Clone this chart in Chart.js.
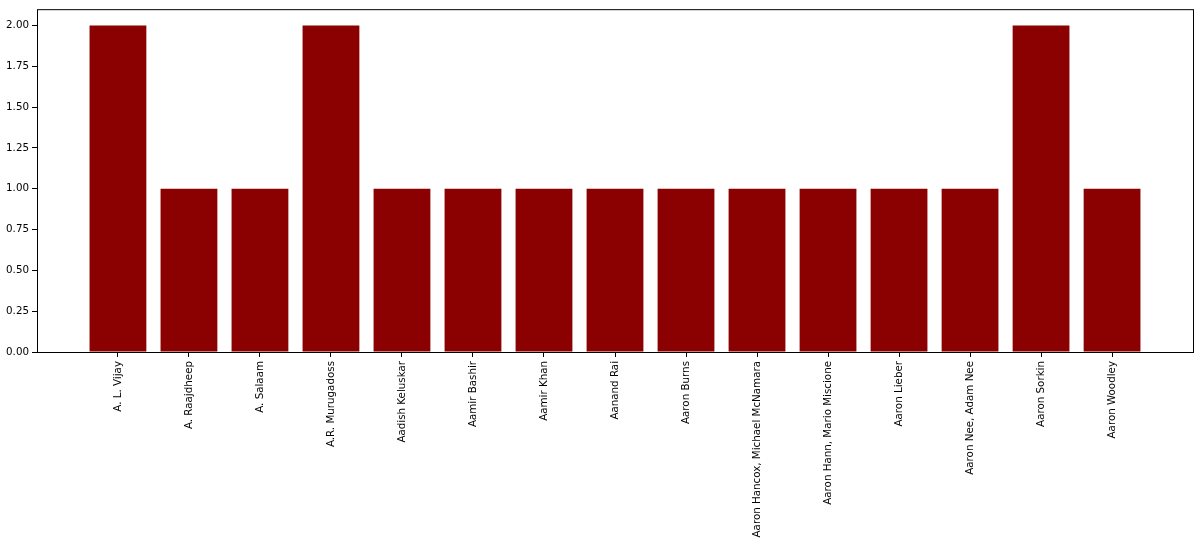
<!DOCTYPE html>
<html>
<head>
<meta charset="utf-8">
<script src="https://cdn.jsdelivr.net/npm/chart.js@4"></script>
<style>
  html, body { margin: 0; padding: 0; background: #fff; }
  canvas { display: block; }
</style>
</head>
<body>
<canvas id="chart" width="1200" height="544"></canvas>
<script>
// Data
const directors = [
    'A. L. Vijay', 'A. Raajdheep', 'A. Salaam', 'A.R. Murugadoss', 'Aadish Keluskar',
    'Aamir Bashir', 'Aamir Khan', 'Aanand Rai', 'Aaron Burns',
    'Aaron Hancox, Michael McNamara', 'Aaron Hann, Mario Miscione', 'Aaron Lieber',
    'Aaron Nee, Adam Nee', 'Aaron Sorkin', 'Aaron Woodley'
];
const counts = [2, 1, 1, 2, 1, 1, 1, 1, 1, 1, 1, 1, 1, 2, 1];
const yTicks = [0, 0.25, 0.5, 0.75, 1, 1.25, 1.5, 1.75, 2];

// Frame around the plot area (matplotlib style)
const frame = {
    id: 'frame',
    afterDraw(chart) {
        const a = chart.chartArea;
        const ctx = chart.ctx;
        ctx.save();
        ctx.strokeStyle = '#000';
        ctx.lineWidth = 1;
        ctx.strokeRect(a.left + 0.5, a.top + 0.5, a.right - a.left, a.bottom - a.top);
        ctx.restore();
    }
};

const font = { family: 'DejaVu Sans', size: 10.3 };

new Chart(document.getElementById('chart').getContext('2d'), {
    type: 'bar',
    data: {
        datasets: [{
            data: counts.map((c, i) => ({ x: i, y: c })),
            backgroundColor: '#8b0000',
            borderWidth: 0,
            barPercentage: 0.8,
            categoryPercentage: 1.0
        }]
    },
    options: {
        responsive: false,
        animation: false,
        devicePixelRatio: 1,
        layout: { padding: { top: 7, right: 7, left: 0, bottom: 0 } },
        plugins: { legend: { display: false }, tooltip: { enabled: false } },
        scales: {
            x: {
                type: 'linear',
                offset: false,
                min: -1.14,
                max: directors.length - 1 + 1.14,
                afterBuildTicks: axis => { axis.ticks = directors.map((d, i) => ({ value: i })); },
                afterFit: axis => { axis.height = 192; },
                grid: { offset: false, drawOnChartArea: false, drawTicks: true, tickLength: 5, color: '#000' },
                border: { display: false },
                ticks: {
                    autoSkip: false,
                    maxRotation: 90,
                    minRotation: 90,
                    padding: 4,
                    color: '#000',
                    font: font,
                    callback: v => directors[v]
                }
            },
            y: {
                min: 0,
                max: 2.1,
                afterBuildTicks: axis => { axis.ticks = yTicks.map(v => ({ value: v })); },
                afterFit: axis => { axis.width = 37; },
                grid: { drawOnChartArea: false, drawTicks: true, tickLength: 5, color: '#000' },
                border: { display: false },
                ticks: {
                    padding: 3,
                    color: '#000',
                    font: font,
                    callback: v => v.toFixed(2)
                }
            }
        }
    },
    plugins: [frame]
});
</script>
</body>
</html>
